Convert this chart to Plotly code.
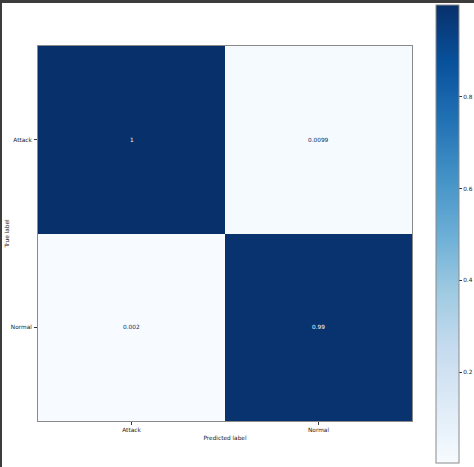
import plotly.graph_objects as plgo

# normalized confusion matrix
class_labels = ["Attack", "Normal"]
cm_values = [[1.0, 0.0099],
             [0.002, 0.99]]
cbar_ticks = [0.2, 0.4, 0.6, 0.8]

W, H = 474, 467
L, R, T, B = 38, 62, 46, 46
pw, ph = W - L - R, H - T - B
FS = 5.8  # small matplotlib-ish text

def main():
    zmin = min(min(r) for r in cm_values)
    zmax = max(max(r) for r in cm_values)
    heat = plgo.Heatmap(
        z=cm_values, x=class_labels, y=class_labels,
        colorscale="Blues", zmin=zmin, zmax=zmax,
        hoverinfo="skip",
        colorbar=dict(
            x=(436 - L) / pw, xanchor="left", xpad=0,
            y=(421 - 234) / ph, yanchor="middle", ypad=0,
            thickness=23, lenmode="pixels", len=458,
            outlinecolor="#8a8a8a", outlinewidth=1,
            tickvals=cbar_ticks, ticks="outside", ticklen=3, tickcolor="#333",
            tickfont=dict(size=FS, color="#222"),
        ),
    )
    fig = plgo.Figure(heat)

    # cell labels, colour flips on dark cells like matplotlib
    mid = (zmin + zmax) / 2
    for i, yl in enumerate(class_labels):
        for j, xl in enumerate(class_labels):
            v = cm_values[i][j]
            fig.add_annotation(x=xl, y=yl, text=f"{v:.2g}", showarrow=False,
                               font=dict(size=FS, color="#f7fbff" if v > mid else "#08306b"))

    axis_common = dict(showline=True, mirror=True, linecolor="#8a8a8a", linewidth=1,
                       ticks="outside", ticklen=3, tickcolor="#333",
                       tickfont=dict(size=FS, color="#222"), showgrid=False, zeroline=False)
    fig.update_xaxes(title=dict(text="Predicted label", font=dict(size=FS, color="#222"), standoff=3),
                     **axis_common)
    fig.update_yaxes(title=dict(text="True label", font=dict(size=FS, color="#222"), standoff=0),
                     ticklabelstandoff=1, autorange="reversed", **axis_common)

    # dark window edge at top and left
    fig.add_shape(type="rect", xref="paper", yref="paper", x0=-L / pw, x1=(2 - L) / pw,
                  y0=-B / ph, y1=(H - B) / ph, fillcolor="#3c3c3c", line_width=0)
    fig.add_shape(type="rect", xref="paper", yref="paper", x0=-L / pw, x1=(W - L) / pw,
                  y0=(H - B - 3) / ph, y1=(H - B) / ph, fillcolor="#3c3c3c", line_width=0)

    fig.update_layout(width=W, height=H,
                      margin=dict(l=L, r=R, t=T, b=B, autoexpand=False),
                      paper_bgcolor="white", plot_bgcolor="white",
                      font=dict(family="DejaVu Sans"))
    # drop the default page margin so the figure sits at the window corner
    fig.write_html("out.html", config={"displayModeBar": False},
                   post_script="document.body.style.margin='0';document.body.style.overflow='hidden';")

if __name__ == "__main__":
    main()
